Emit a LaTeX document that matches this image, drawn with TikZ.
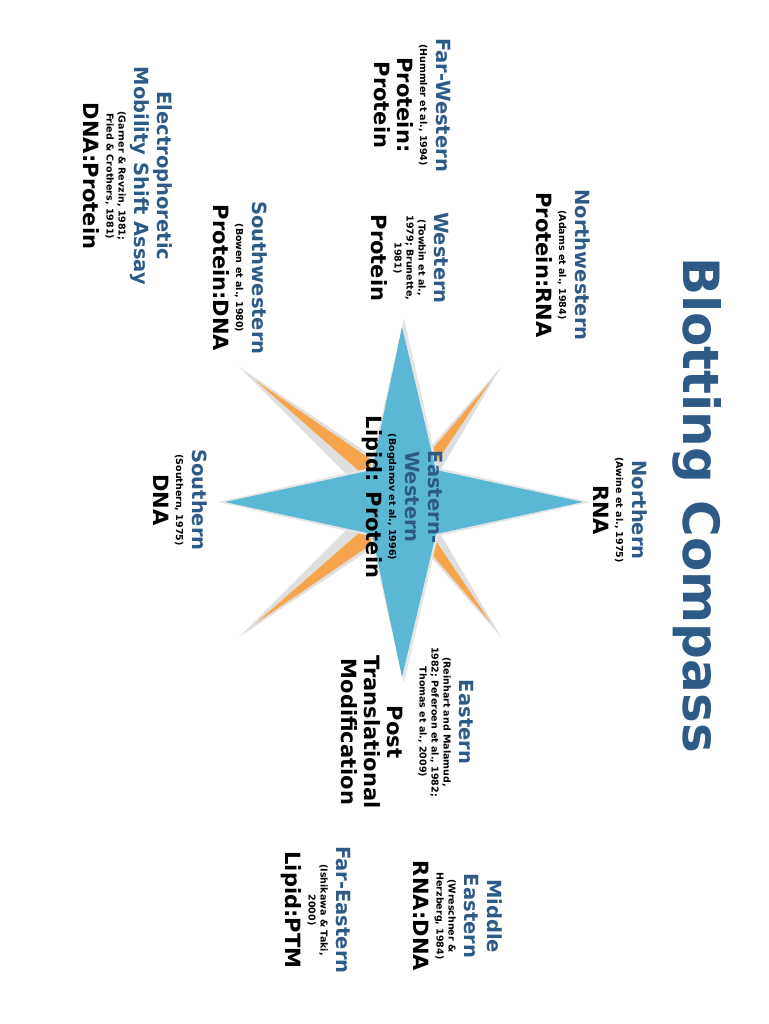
\documentclass[tikz,border=0pt]{standalone}
\usepackage{fontspec}
\setmainfont{DejaVu Sans}
\usetikzlibrary{calc}
\definecolor{hblue}{HTML}{2E5A87}
\definecolor{scyan}{HTML}{5BB8D4}
\definecolor{sorange}{HTML}{F6A54C}
\newcommand\Hd[1]{{\fontsize{19.5}{23}\selectfont\color{hblue}#1}}
\newcommand\Ct[1]{{\fontsize{9.5}{11.5}\selectfont #1}}
\newcommand\Bk[1]{{\fontsize{21}{25}\selectfont #1}}
\newcommand\cc{\\[-11pt]}
\newcommand\hc{\\[-7pt]}
\begin{document}
\begin{tikzpicture}[x=1pt,y=-1pt,
  lbl/.style={rotate=-90,align=center,font=\fontsize{20}{23}\selectfont\bfseries,inner sep=0pt}]
\useasboundingbox (0,0) rectangle (768,1024);
\fill[white] (0,0) rectangle (768,1024);
\coordinate (c) at (404,502);
% diagonal rays
\foreach \dx/\dy in {97/-135,97/135,-165/-135,-165/135}{
  \fill[gray!25] ($(c)+(-\dx*0.1,\dy*0.1)$) -- ($(c)+(\dx,\dy)$) -- ($(c)+(\dx*0.1,-\dy*0.1)$) -- cycle;
  \fill[sorange] ($(c)+(-\dx*0.08,\dy*0.08)$) -- ($(c)+(0.9*\dx,0.9*\dy)$) -- ($(c)+(\dx*0.03,-\dy*0.03)$) -- cycle;
}
% shadow star
\fill[gray!20] (404,318) -- (438,468) -- (590,502) -- (438,536) -- (404,683) -- (370,536) -- (218,502) -- (370,468) -- cycle;
\fill[scyan] (402,327) -- (436,470) -- (583,502) -- (436,534) -- (402,677) -- (372,534) -- (225,502) -- (372,470) -- cycle;
\node[lbl,text=hblue,font=\fontsize{50}{52}\selectfont\bfseries] (title) at (697,505) {Blotting Compass};
\node[lbl] (north) at (620,510) {\Hd{Northern}\hc\Ct{(Awine et al., 1975)}\\\Bk{RNA}};
\node[lbl] (nw) at (563,265) {\Hd{Northwestern}\hc\Ct{(Adams et al., 1984)}\\\Bk{Protein:RNA}};
\node[lbl] (east) at (446,722) {\Hd{Eastern}\hc\Ct{(Reinhart and Malamud,}\cc\Ct{1982; Peferoen et al., 1982;}\cc\Ct{Thomas et al., 2009)}};
\node[lbl] (ptm) at (372,732) {\Bk{Post}\\\Bk{Translational}\\\Bk{Modification}};
\node[lbl] (me) at (458,916) {\Hd{Middle}\\\Hd{Eastern}\hc\Ct{(Wreschner \&}\cc\Ct{Herzberg, 1984)}\\\Bk{RNA:DNA}};
\node[lbl] (fe) at (316,910) {\Hd{Far-Eastern}\hc\Ct{(Ishikawa \& Taki,}\cc\Ct{2000)}\\\Bk{Lipid:PTM}};
\node[lbl] (ew) at (402,497) {\Hd{Eastern-}\\\Hd{Western}\hc\Ct{(Bogdanov et al., 1996)}\\\Bk{Lipid: Protein}};
\node[lbl] (west) at (410,258) {\Hd{Western}\hc\Ct{(Towbin et al.,}\cc\Ct{1979; Brunette,}\cc\Ct{1981)}\\\Bk{Protein}};
\node[lbl] (fw) at (412,105) {\Hd{Far-Western}\hc\Ct{(Hummler et al., 1994)}\\\Bk{Protein:}\\\Bk{Protein}};
\node[lbl] (sw) at (240,278) {\Hd{Southwestern}\hc\Ct{(Bowen et al., 1980)}\\\Bk{Protein:DNA}};
\node[lbl] (emsa) at (128,176) {\Hd{Electrophoretic}\\\Hd{Mobility Shift Assay}\hc\Ct{(Garner \& Revzin, 1981;}\cc\Ct{Fried \& Crothers, 1981)}\\\Bk{DNA:Protein}};
\node[lbl] (south) at (180,500) {\Hd{Southern}\hc\Ct{(Southern, 1975)}\\\Bk{DNA}};
\end{tikzpicture}
\end{document}
